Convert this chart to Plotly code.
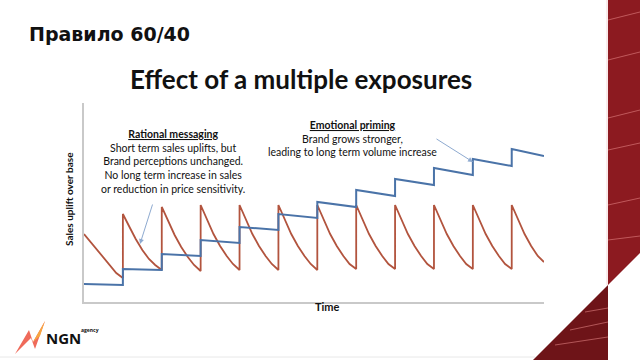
import plotly.graph_objects as go

# ---------------- data ----------------
# time in "exposure periods"; exposures happen at integer times
exposure_t = [1, 2, 3, 4, 5, 6, 7, 8, 9, 10, 11]
t_end = 11.83

# Rational messaging (red): sawtooth decay after each exposure
red_phase = [0.0, 0.17, 0.33, 0.5, 0.67, 0.83, 1.0]
red_lead_in = [68, 60, 52, 44, 36, 29, 24]          # t = 0..1
red_teeth = [
    [88, 75, 63, 52, 43, 37, 32],   # t = 1
    [95, 81, 67, 55, 45, 37, 31],   # t = 2
    [97, 82, 68, 56, 46, 38, 32],   # t = 3
    [97, 82, 68, 56, 46, 38, 32],   # t = 4
    [97, 82, 68, 56, 46, 38, 32],   # t = 5
    [97, 82, 68, 56, 46, 38, 33],   # t = 6
    [97, 82, 68, 56, 46, 38, 33],   # t = 7
    [97, 82, 68, 56, 46, 38, 33],   # t = 8
    [97, 82, 68, 56, 46, 38, 33],   # t = 9
    [97, 82, 68, 56, 46, 38, 33],   # t = 10
    [97, 82, 68, 56, 46, 40],       # t = 11 (cut at end of axis)
]

# Emotional priming (blue): step up at each exposure, slow decline
blue_start = [18, 33, 48, 62, 75, 88, 100, 112, 123, 134, 143, 153]
blue_end = [17, 32, 46, 59, 72, 84, 95, 106, 117, 127, 136, 146]

# ---------------- build series ----------------
red_x, red_y = [], []
for p, v in zip(red_phase, red_lead_in):
    red_x.append(0 + p)
    red_y.append(v)
for t0, tooth in zip(exposure_t, red_teeth):
    for p, v in zip(red_phase, tooth):
        red_x.append(t0 + p)
        red_y.append(v)

seg_starts = [0] + exposure_t
seg_ends = exposure_t + [t_end]
blue_x, blue_y = [], []
for s, e, v0, v1 in zip(seg_starts, seg_ends, blue_start, blue_end):
    blue_x += [s, e]
    blue_y += [v0, v1]

fig = go.Figure()
fig.add_trace(go.Scatter(x=red_x, y=red_y, mode="lines",
                         line=dict(color="#b2543e", width=1.8), hoverinfo="skip"))
fig.add_trace(go.Scatter(x=blue_x, y=blue_y, mode="lines",
                         line=dict(color="#4a73a8", width=2), hoverinfo="skip"))


def px(x):
    return round(x / 640.0, 5)


def py(y):
    return round(1 - y / 360.0, 5)


fig.update_layout(
    width=640, height=360, autosize=False,
    margin=dict(l=0, r=0, t=0, b=0),
    paper_bgcolor="white", plot_bgcolor="white",
    showlegend=False,
    xaxis=dict(domain=[px(84), px(544)], range=[0, t_end], showgrid=False,
               zeroline=False, showticklabels=False, ticks="",
               showline=True, linecolor="#c9c9c9", linewidth=1.5),
    yaxis=dict(domain=[py(302), py(103)], range=[0, 199], showgrid=False,
               zeroline=False, showticklabels=False, ticks="",
               showline=True, linecolor="#c9c9c9", linewidth=1.5),
)

ann = []
# slide title
ann.append(dict(text="<b>Правило 60/40</b>", x=px(27), y=py(34), xref="paper", yref="paper",
                xanchor="left", yanchor="middle", showarrow=False,
                font=dict(family="DejaVu Sans", size=19, color="#111111")))
# chart title
ann.append(dict(text="<b>Effect of a multiple exposures</b>", x=px(301), y=py(79),
                xref="paper", yref="paper", xanchor="center", yanchor="middle",
                showarrow=False, font=dict(family="Lato", size=26, color="#111111")))
# axis titles
ann.append(dict(text="<b>Sales uplift over base</b>", x=px(69), y=py(199), xref="paper",
                yref="paper", xanchor="center", yanchor="middle", textangle=-90,
                showarrow=False, font=dict(family="Lato", size=10, color="#111111")))
ann.append(dict(text="<b>Time</b>", x=px(327), y=py(306), xref="paper", yref="paper",
                xanchor="center", yanchor="middle", showarrow=False,
                font=dict(family="Lato", size=11, color="#111111")))
# callouts
ann.append(dict(text="<b><u>Rational messaging</u></b><br>Short term sales uplifts, but<br>"
                     "Brand perceptions unchanged.<br>No long term increase in sales<br>"
                     "or reduction in price sensitivity.",
                x=px(173), y=py(162), xref="paper", yref="paper", xanchor="center",
                yanchor="middle", align="center", showarrow=False,
                font=dict(family="Lato", size=10.5, color="#111111")))
ann.append(dict(text="<b><u>Emotional priming</u></b><br>Brand grows stronger,<br>"
                     "leading to long term volume increase",
                x=px(352), y=py(139), xref="paper", yref="paper", xanchor="center",
                yanchor="middle", align="center", showarrow=False,
                font=dict(family="Lato", size=10.5, color="#111111")))
# arrows
ann.append(dict(text="", x=px(140), y=py(244), xref="paper", yref="paper",
                ax=13, ay=-41, showarrow=True, arrowhead=2, arrowsize=1,
                arrowwidth=1, arrowcolor="#8eaad0"))
ann.append(dict(text="", x=px(473), y=py(162), xref="paper", yref="paper",
                ax=-38, ay=-24, showarrow=True, arrowhead=2, arrowsize=1,
                arrowwidth=1, arrowcolor="#8eaad0"))
# logo text
ann.append(dict(text="<b>NGN</b>", x=px(44), y=py(338), xref="paper", yref="paper",
                xanchor="left", yanchor="middle", showarrow=False,
                font=dict(family="Open Sans", size=15, color="#111111")))
ann.append(dict(text="<b>agency</b>", x=px(79), y=py(330), xref="paper", yref="paper",
                xanchor="left", yanchor="middle", showarrow=False,
                font=dict(family="Open Sans", size=5, color="#111111")))
fig.update_layout(annotations=ann)

shapes = []
# red decorative band on the right
shapes.append(dict(type="rect", xref="paper", yref="paper",
                   x0=px(608), x1=1, y0=py(253), y1=1,
                   fillcolor="#8c1a20", line=dict(width=0)))
shapes.append(dict(type="path", xref="paper", yref="paper",
                   path=f"M {px(608)},{py(253)} L 1,{py(253)} L {px(608)},{py(285)} Z",
                   fillcolor="#8c1a20", line=dict(width=0)))
shapes.append(dict(type="path", xref="paper", yref="paper",
                   path=f"M {px(608)},{py(285)} L {px(608)},0 L {px(533)},0 Z",
                   fillcolor="#6e1418", line=dict(width=0)))
for (x0, y0, x1, y1) in [(608, 20, 640, 12), (608, 60, 640, 52), (608, 118, 640, 110),
                          (608, 150, 640, 143), (608, 205, 640, 198), (608, 240, 640, 236),
                          (570, 330, 608, 322), (555, 345, 608, 337), (585, 312, 608, 308)]:
    shapes.append(dict(type="line", xref="paper", yref="paper", x0=px(x0), y0=py(y0),
                       x1=px(x1), y1=py(y1), line=dict(color="rgba(235,140,140,0.55)", width=1)))
shapes.append(dict(type="line", xref="paper", yref="paper", x0=px(607), y0=1,
                   x1=px(607), y1=py(285), line=dict(color="#f3d6d6", width=1)))
# faint bottom rule
shapes.append(dict(type="line", xref="paper", yref="paper", x0=0, y0=py(357),
                   x1=px(535), y1=py(357), line=dict(color="#e8e8e8", width=1)))
# lightning bolt of the logo
shapes.append(dict(type="path", xref="paper", yref="paper",
                   path=f"M {px(15)},{py(354)} L {px(29)},{py(330)} L {px(33)},{py(342)} "
                        f"L {px(45)},{py(321)} L {px(35)},{py(349)} L {px(31)},{py(338)} Z",
                   fillcolor="#ef6a5a", line=dict(width=0)))
shapes.append(dict(type="path", xref="paper", yref="paper",
                   path=f"M {px(33)},{py(342)} L {px(45)},{py(321)} L {px(40)},{py(336)} Z",
                   fillcolor="#f7a640", line=dict(width=0)))
fig.update_layout(shapes=shapes)

fig.write_html("out.html",
               config={"displayModeBar": False},
               post_script="document.body.style.margin='0';"
                           "document.body.style.overflow='hidden';")
